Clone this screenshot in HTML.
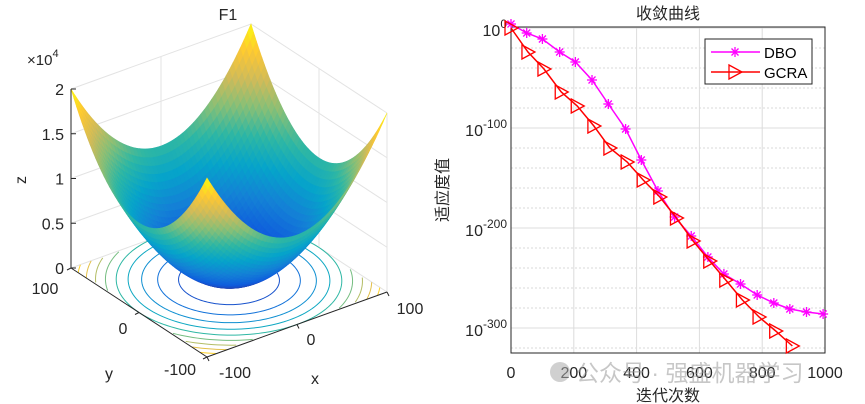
<!DOCTYPE html>
<html><head><meta charset="utf-8"><style>
body{margin:0;background:#fff;}
svg{display:block;font-family:"Liberation Sans","Noto Sans CJK SC",sans-serif;}
</style></head><body>
<svg id="fig" width="865" height="404" viewBox="0 0 865 404">
  <g id="left"></g>
  <g id="right"></g>
</svg>
<script>
// ---------- Convergence chart data ----------
const dboIter = [0,50,100,155,205,258,310,365,415,468,521,574,627,678,731,784,837,888,941,994];
const dboExp = [4,-5,-11,-24,-34,-52,-76,-101,-132,-163,-189,-208,-229,-246,-256,-267,-275,-281,-284,-286];
const gcraIter = [0,54,105,160,211,264,315,370,421,474,527,580,633,684,737,790,843,896];
const gcraExp = [0,-24,-41,-64,-78,-98,-120,-134,-152,-169,-190,-213,-233,-252,-272,-289,-303,-318];
const xTicks = [0,200,400,600,800,1000];
const yTicks = [0,-100,-200,-300];
// ---------- Surface data ----------
const zTicks = [0,0.5,1,1.5,2];
const contourLevels = [2000,4000,6000,8000,10000,12000,14000,16000,18000,20000];

const NS='http://www.w3.org/2000/svg';
function mk(tag, attrs, parent){const e=document.createElementNS(NS,tag);for(const k in attrs)e.setAttribute(k,attrs[k]);parent.appendChild(e);return e;}

// ===== Right chart =====
const R=document.getElementById('right');
const X0=511,X1=825,Y0=27,Y1=353;
const xs=v=>X0+(v/1000)*(X1-X0);
const ys=e=>28+(-e)*1.0;
for(let e=0;e>=-320;e-=20){
  if(e%100===0)continue;
  const g=mk('line',{x1:X0,x2:X1,y1:ys(e),y2:ys(e),stroke:'#d8d8d8','stroke-dasharray':'2,2','stroke-width':1},R);
  
  
}
yTicks.forEach(e=>{
  const g=mk('line',{x1:X0,x2:X1,y1:ys(e),y2:ys(e),stroke:'#dcdcdc','stroke-width':1},R);
  
  
  const t=mk('text',{x:X0-4,y:ys(e)+8,'text-anchor':'end','font-size':16,fill:'#262626'},R);
  
  
  const a=document.createElementNS(NS,'tspan');a.textContent='10';t.appendChild(a);
  const b=document.createElementNS(NS,'tspan');b.setAttribute('dy','-8');b.setAttribute('font-size','12');b.textContent=String(e);t.appendChild(b);
});
xTicks.forEach(v=>{
  const g=mk('line',{x1:xs(v),x2:xs(v),y1:Y0,y2:Y1,stroke:'#dcdcdc','stroke-width':1},R);
  
  
  const t=mk('text',{x:xs(v),y:378,'text-anchor':'middle','font-size':16,fill:'#262626'},R);
  
  
  t.textContent=v;
});
const frame=mk('rect',{x:X0,y:Y0,width:X1-X0,height:Y1-Y0,fill:'none',stroke:'#262626','stroke-width':1},R);


const dboLine=mk('polyline',{points:dboIter.map((v,i)=>xs(v)+','+ys(dboExp[i])).join(' '),fill:'none',stroke:'#ff00ff','stroke-width':1.5},R);


function star(cx,cy,p,c){
  const g=mk('g',{stroke:c,'stroke-width':1.3},p);
  const s=5;
  mk('line',{x1:cx-s,x2:cx+s,y1:cy,y2:cy},g);mk('line',{x1:cx,x2:cx,y1:cy-s,y2:cy+s},g);
  mk('line',{x1:cx-s*.7,x2:cx+s*.7,y1:cy-s*.7,y2:cy+s*.7},g);mk('line',{x1:cx-s*.7,x2:cx+s*.7,y1:cy+s*.7,y2:cy-s*.7},g);
  return g;
}
function tri(cx,cy,p,c){
  return mk('polygon',{points:`${cx-6},${cy-7} ${cx+7},${cy} ${cx-6},${cy+7}`,fill:'none',stroke:c,'stroke-width':1.3},p);
}
dboIter.forEach((v,i)=>{const m=star(xs(v),ys(dboExp[i]),R,'#ff00ff');
  
  });
const gLine=mk('polyline',{points:gcraIter.map((v,i)=>xs(v)+','+ys(gcraExp[i])).join(' '),fill:'none',stroke:'#ff0000','stroke-width':1.5},R);


gcraIter.forEach((v,i)=>{const m=tri(xs(v),ys(gcraExp[i]),R,'#ff0000');
  
  });
const L=mk('g',{},R);


mk('rect',{x:705,y:39,width:107,height:45,fill:'#fff',stroke:'#262626','stroke-width':1},L);
mk('line',{x1:711,x2:760,y1:52,y2:52,stroke:'#ff00ff','stroke-width':1.5},L);
star(735,52,L,'#ff00ff');
mk('line',{x1:711,x2:760,y1:72,y2:72,stroke:'#ff0000','stroke-width':1.5},L);
tri(735,72,L,'#ff0000');
const l1=mk('text',{x:764,y:58,'font-size':15,fill:'#000'},L);l1.textContent='DBO';

const l2=mk('text',{x:764,y:78,'font-size':15,fill:'#000'},L);l2.textContent='GCRA';

const rt=mk('text',{x:668,y:19,'text-anchor':'middle','font-size':16,fill:'#262626'},R);rt.textContent='收敛曲线';

const xt=mk('text',{x:668,y:401,'text-anchor':'middle','font-size':16,fill:'#262626'},R);xt.textContent='迭代次数';

const yt=mk('text',{x:0,y:0,'text-anchor':'middle','font-size':16,fill:'#262626',transform:'translate(448,190) rotate(-90)'},R);yt.textContent='适应度值';

const wmI=mk('circle',{cx:560,cy:372,r:10,fill:'#aaaaaa','fill-opacity':0.55},R);

const wm=mk('text',{x:576,y:381,'font-size':23,fill:'#999','fill-opacity':0.55},R);wm.textContent='公众号 · 强盛机器学习';


// ===== Left 3D surface =====
const S=document.getElementById('left');
const P=(x,y,z)=>[207+(x+100)*0.9+(y+100)*(-0.68), 357+(x+100)*(-0.325)+(y+100)*(-0.445)+z*(-179/20000)];
const parula=[[53,42,135],[15,92,221],[20,129,214],[6,164,202],[46,183,164],[135,191,119],[209,187,89],[254,200,50],[249,251,14]];
function cmap(t){t=Math.max(0,Math.min(1,t))*8;const i=Math.min(7,Math.floor(t)),f=t-i;const a=parula[i],b=parula[i+1];
  return `rgb(${Math.round(a[0]+(b[0]-a[0])*f)},${Math.round(a[1]+(b[1]-a[1])*f)},${Math.round(a[2]+(b[2]-a[2])*f)})`;}
const grid=mk('g',{stroke:'#e3e3e3','stroke-width':1,fill:'none'},S);

zTicks.forEach(z=>{const zz=z*10000;const a=P(-100,100,zz),b=P(100,100,zz),c=P(100,-100,zz);
  mk('polyline',{points:`${a} ${b} ${c}`},grid);});
[-100,0,100].forEach(v=>{let a=P(v,100,0),b=P(v,100,20000);mk('line',{x1:a[0],y1:a[1],x2:b[0],y2:b[1]},grid);
  a=P(100,v,0);b=P(100,v,20000);mk('line',{x1:a[0],y1:a[1],x2:b[0],y2:b[1]},grid);});
const cg=mk('g',{fill:'none','stroke-width':1},S);

contourLevels.forEach(lv=>{const r=Math.sqrt(lv);const pts=[];
  for(let k=0;k<=180;k++){const a=k/180*2*Math.PI;const x=r*Math.cos(a),y=r*Math.sin(a);
    if(Math.abs(x)<=100&&Math.abs(y)<=100)pts.push(P(x,y,0).join(','));else if(pts.length&&pts[pts.length-1]!=='M')pts.push('M');}
  let d='',start=true;pts.forEach(p=>{if(p==='M'){start=true;return;}d+=(start?'M':'L')+p+' ';start=false;});
  mk('path',{d,stroke:cmap(lv/20000)},cg);});
const sg=mk('g',{},S);

const N=50,quads=[];
for(let i=0;i<N;i++)for(let j=0;j<N;j++){
  const x0=-100+200*i/N,x1=-100+200*(i+1)/N,y0=-100+200*j/N,y1=-100+200*(j+1)/N;
  const xm=(x0+x1)/2,ym=(y0+y1)/2;quads.push({x0,x1,y0,y1,d:0.61*xm+0.79*ym,z:xm*xm+ym*ym});}
quads.sort((a,b)=>b.d-a.d);
const f=(x,y)=>x*x+y*y;
quads.forEach(q=>{const c=cmap(q.z/20000);
  const pts=[P(q.x0,q.y0,f(q.x0,q.y0)),P(q.x1,q.y0,f(q.x1,q.y0)),P(q.x1,q.y1,f(q.x1,q.y1)),P(q.x0,q.y1,f(q.x0,q.y1))];
  mk('polygon',{points:pts.map(p=>p.join(',')).join(' '),fill:c,stroke:c,'stroke-width':0.6},sg);});
const ax=mk('g',{stroke:'#262626','stroke-width':1,fill:'none'},S);

let A=P(-100,100,0),B=P(-100,100,20000);mk('line',{x1:A[0],y1:A[1],x2:B[0],y2:B[1]},ax);
let C=P(-100,-100,0),D=P(100,-100,0);mk('line',{x1:A[0],y1:A[1],x2:C[0],y2:C[1]},ax);mk('line',{x1:C[0],y1:C[1],x2:D[0],y2:D[1]},ax);
function txt(x,y,s,anchor,size,name){const t=mk('text',{x,y,'text-anchor':anchor,'font-size':size,fill:'#262626'},S);t.textContent=s;
  return t;}
zTicks.forEach(z=>{const p=P(-100,100,z*10000);mk('line',{x1:p[0],y1:p[1],x2:p[0]+5,y2:p[1]},ax);
  txt(p[0]-7,p[1]+6,String(z),'end',16,'z-tick-label');});
[-100,0,100].forEach(v=>{const p=P(-100,v,0);mk('line',{x1:p[0],y1:p[1],x2:p[0]-4,y2:p[1]+2},ax);
  const q=P(v,-100,0);mk('line',{x1:q[0],y1:q[1],x2:q[0]+2,y2:q[1]+4},ax);});
txt(45,294,'100','middle',16,'y-tick-label');txt(123,334,'0','middle',16,'y-tick-label');txt(180,375,'-100','middle',16,'y-tick-label');
txt(410,314,'100','middle',16,'x-tick-label');txt(311,345,'0','middle',16,'x-tick-label');txt(235,378,'-100','middle',16,'x-tick-label');
txt(315,384,'x','middle',16,'x-axis-title');txt(109,379,'y','middle',16,'y-axis-title');
const zl=txt(0,0,'z','middle',16,'z-axis-title');zl.setAttribute('transform','translate(26,180) rotate(-90)');
txt(228,20,'F1','middle',16,'surface-title');
const ex=txt(27,65,'×10','start',15,'z-exponent-label');
const sup=document.createElementNS(NS,'tspan');sup.setAttribute('dy','-8');sup.setAttribute('font-size','11');sup.textContent='4';ex.appendChild(sup);
</script>
</body></html>
